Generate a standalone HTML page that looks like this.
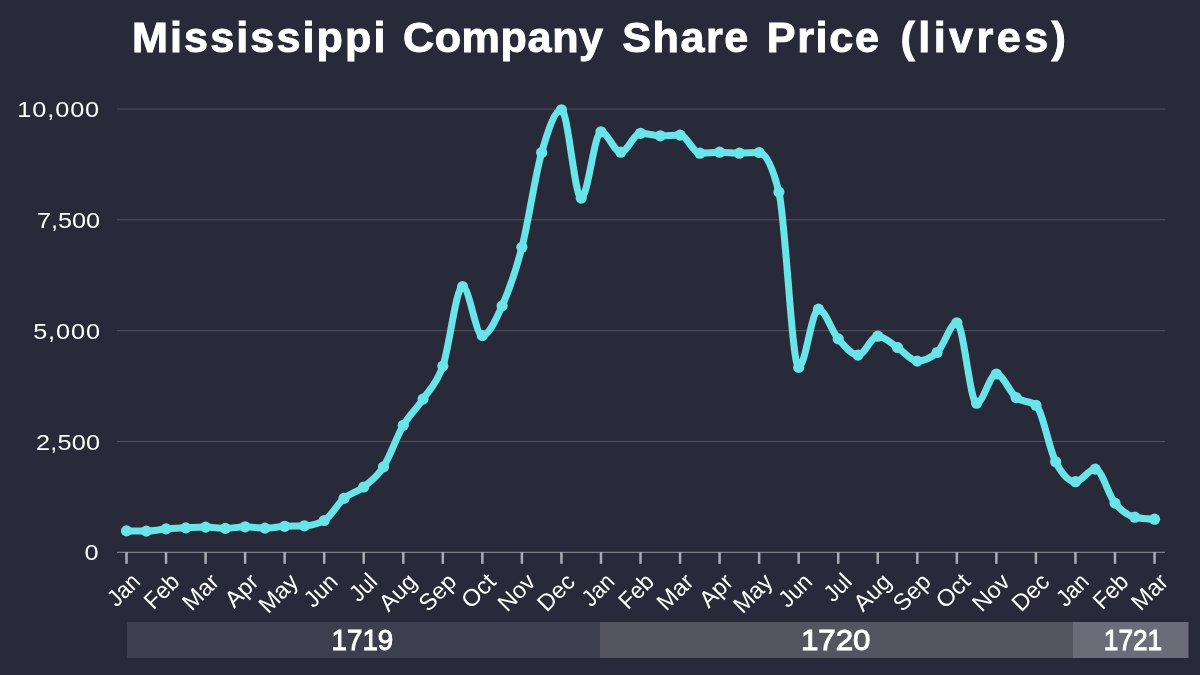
<!DOCTYPE html>
<html><head><meta charset="utf-8"><title>Mississippi Company Share Price</title>
<style>
html,body{margin:0;padding:0;background:#282a3a;}
body{width:1200px;height:675px;overflow:hidden;font-family:"Liberation Sans",sans-serif;}
svg{display:block;font-family:"Liberation Sans",sans-serif;will-change:transform;}
.title text{font-weight:bold;font-size:43.2px;fill:#fff;stroke:#fff;stroke-width:0.9px;}
.yl text{font-size:22.0px;fill:#fff;}
.xl text{font-size:23.5px;fill:#fff;text-anchor:end;}
.yr text{font-size:29.3px;fill:#fff;stroke:#fff;stroke-width:1.0px;}
</style></head><body>
<svg width="1200" height="675" viewBox="0 0 1200 675">
<rect width="1200" height="675" fill="#282a3a"/>
<g class="title"><text x="132.00" y="52.3" style="letter-spacing:2.06px">Mississippi</text><text x="402.90" y="52.3" style="letter-spacing:0.58px">Company</text><text x="622.30" y="52.3" style="letter-spacing:1.48px">Share</text><text x="766.70" y="52.3" style="letter-spacing:1.65px">Price</text><text x="900.50" y="52.3" style="letter-spacing:3.41px">(livres)</text></g>
<g fill="#52535f"><rect x="117" y="441.00" width="1048" height="1"/><rect x="117" y="330.17" width="1048" height="1"/><rect x="117" y="219.33" width="1048" height="1"/><rect x="117" y="108.50" width="1048" height="1"/></g>
<rect x="117" y="551.75" width="1048" height="1.15" fill="#84858e"/>
<g fill="#a9aab1"><rect x="125.25" y="552" width="2.5" height="11.9"/><rect x="164.79" y="552" width="2.5" height="11.9"/><rect x="204.33" y="552" width="2.5" height="11.9"/><rect x="243.87" y="552" width="2.5" height="11.9"/><rect x="283.41" y="552" width="2.5" height="11.9"/><rect x="322.95" y="552" width="2.5" height="11.9"/><rect x="362.49" y="552" width="2.5" height="11.9"/><rect x="402.03" y="552" width="2.5" height="11.9"/><rect x="441.57" y="552" width="2.5" height="11.9"/><rect x="481.11" y="552" width="2.5" height="11.9"/><rect x="520.65" y="552" width="2.5" height="11.9"/><rect x="560.19" y="552" width="2.5" height="11.9"/><rect x="599.73" y="552" width="2.5" height="11.9"/><rect x="639.27" y="552" width="2.5" height="11.9"/><rect x="678.81" y="552" width="2.5" height="11.9"/><rect x="718.35" y="552" width="2.5" height="11.9"/><rect x="757.89" y="552" width="2.5" height="11.9"/><rect x="797.43" y="552" width="2.5" height="11.9"/><rect x="836.97" y="552" width="2.5" height="11.9"/><rect x="876.51" y="552" width="2.5" height="11.9"/><rect x="916.05" y="552" width="2.5" height="11.9"/><rect x="955.59" y="552" width="2.5" height="11.9"/><rect x="995.13" y="552" width="2.5" height="11.9"/><rect x="1034.67" y="552" width="2.5" height="11.9"/><rect x="1074.21" y="552" width="2.5" height="11.9"/><rect x="1113.75" y="552" width="2.5" height="11.9"/><rect x="1153.29" y="552" width="2.5" height="11.9"/></g>
<g class="yl"><text transform="translate(17.20,117.10) scale(1.150,1)" style="letter-spacing:0.81px">10,000</text><text transform="translate(37.05,228.00) scale(1.150,1)" style="letter-spacing:-0.05px">7,500</text><text transform="translate(33.15,338.90) scale(1.150,1)" style="letter-spacing:0.79px">5,000</text><text transform="translate(36.05,450.00) scale(1.150,1)" style="letter-spacing:0.16px">2,500</text><text transform="translate(84.45,560.30) scale(1.150,1)" style="letter-spacing:0.00px">0</text></g>
<g class="xl"><text transform="translate(141.40,583.10) rotate(-45) scale(0.920,1)">Jan</text><text transform="translate(180.94,583.10) rotate(-45) scale(0.960,1)">Feb</text><text transform="translate(220.48,583.10) rotate(-45)">Mar</text><text transform="translate(260.02,583.10) rotate(-45)">Apr</text><text transform="translate(299.56,583.10) rotate(-45)">May</text><text transform="translate(339.10,583.10) rotate(-45) scale(0.955,1)">Jun</text><text transform="translate(378.64,583.10) rotate(-45) scale(0.940,1)">Jul</text><text transform="translate(418.18,583.10) rotate(-45)">Aug</text><text transform="translate(457.72,583.10) rotate(-45)">Sep</text><text transform="translate(497.26,583.10) rotate(-45) scale(1.030,1)">Oct</text><text transform="translate(536.80,583.10) rotate(-45)">Nov</text><text transform="translate(576.34,583.10) rotate(-45)">Dec</text><text transform="translate(615.88,583.10) rotate(-45) scale(0.920,1)">Jan</text><text transform="translate(655.42,583.10) rotate(-45) scale(0.960,1)">Feb</text><text transform="translate(694.96,583.10) rotate(-45)">Mar</text><text transform="translate(734.50,583.10) rotate(-45)">Apr</text><text transform="translate(774.04,583.10) rotate(-45)">May</text><text transform="translate(813.58,583.10) rotate(-45) scale(0.955,1)">Jun</text><text transform="translate(853.12,583.10) rotate(-45) scale(0.940,1)">Jul</text><text transform="translate(892.66,583.10) rotate(-45)">Aug</text><text transform="translate(932.20,583.10) rotate(-45)">Sep</text><text transform="translate(971.74,583.10) rotate(-45) scale(1.030,1)">Oct</text><text transform="translate(1011.28,583.10) rotate(-45)">Nov</text><text transform="translate(1050.82,583.10) rotate(-45)">Dec</text><text transform="translate(1090.36,583.10) rotate(-45) scale(0.920,1)">Jan</text><text transform="translate(1129.90,583.10) rotate(-45) scale(0.960,1)">Feb</text><text transform="translate(1169.44,583.10) rotate(-45)">Mar</text></g>
<rect x="127" y="622" width="473" height="36" fill="#3e3f4e"/>
<rect x="600" y="622" width="473" height="36" fill="#54555f"/>
<rect x="1073" y="622" width="115.5" height="36" fill="#6b6c77"/>
<g class="yr"><text transform="translate(331.61,649.9) scale(0.946,1)">1719</text><text transform="translate(800.97,649.9) scale(1.067,1)">1720</text><text transform="translate(1103.81,649.9) scale(0.895,1)">1721</text></g>
<path d="M126.50,530.90C133.09,531.00,139.68,531.10,146.27,531.10C152.86,531.10,159.45,529.43,166.04,528.90C172.63,528.37,179.22,528.20,185.81,527.90C192.40,527.60,198.99,527.10,205.58,527.10C212.17,527.10,218.76,528.40,225.35,528.40C231.94,528.40,238.53,526.80,245.12,526.80C251.71,526.80,258.30,528.10,264.89,528.10C271.48,528.10,278.07,526.63,284.66,526.30C291.25,525.97,297.84,526.13,304.43,525.80C311.02,525.47,317.61,524.03,324.20,520.50C330.79,516.97,337.38,503.98,343.97,498.40C350.56,492.82,357.15,492.25,363.74,487.00C370.33,481.75,376.92,477.18,383.51,466.90C390.10,456.62,396.69,436.60,403.28,425.30C409.87,414.00,416.46,408.97,423.05,399.10C429.64,389.23,436.23,384.85,442.82,366.10C449.41,347.35,456.00,286.60,462.59,286.60C469.18,286.60,475.77,335.60,482.36,335.60C488.95,335.60,495.54,320.62,502.13,305.90C508.72,291.18,515.31,272.87,521.90,247.30C528.49,221.73,535.08,175.42,541.67,152.50C548.26,129.58,554.85,109.80,561.44,109.80C568.03,109.80,574.62,198.10,581.21,198.10C587.80,198.10,594.39,131.80,600.98,131.80C607.57,131.80,614.16,152.20,620.75,152.20C627.34,152.20,633.93,133.30,640.52,133.30C647.11,133.30,653.70,135.80,660.29,135.80C666.88,135.80,673.47,135.10,680.06,135.10C686.65,135.10,693.24,153.20,699.83,153.20C706.42,153.20,713.01,152.20,719.60,152.20C726.19,152.20,732.78,153.20,739.37,153.20C745.96,153.20,752.55,152.50,759.14,152.50C765.73,152.50,772.32,165.70,778.91,192.10C785.50,218.50,792.09,367.40,798.68,367.40C805.27,367.40,811.86,309.20,818.45,309.20C825.04,309.20,831.63,331.25,838.22,338.90C844.81,346.55,851.40,355.10,857.99,355.10C864.58,355.10,871.17,336.20,877.76,336.20C884.35,336.20,890.94,343.35,897.53,347.50C904.12,351.65,910.71,361.10,917.30,361.10C923.89,361.10,930.48,358.23,937.07,352.50C943.66,346.77,950.25,322.80,956.84,322.80C963.43,322.80,970.02,403.20,976.61,403.20C983.20,403.20,989.79,374.00,996.38,374.00C1002.97,374.00,1009.56,392.47,1016.15,397.60C1022.74,402.73,1029.33,400.17,1035.92,405.30C1042.51,410.43,1049.10,449.07,1055.69,461.80C1062.28,474.53,1068.87,481.70,1075.46,481.70C1082.05,481.70,1088.64,469.10,1095.23,469.10C1101.82,469.10,1108.41,495.08,1115.00,503.10C1121.59,511.12,1128.18,515.87,1134.77,517.20C1141.36,518.53,1147.95,518.87,1154.54,519.20" fill="none" stroke="#69e4e8" stroke-width="7" stroke-linejoin="round" stroke-linecap="round"/>
<g fill="#69e4e8"><circle cx="126.50" cy="530.90" r="5.6"/><circle cx="146.27" cy="531.10" r="5.6"/><circle cx="166.04" cy="528.90" r="5.6"/><circle cx="185.81" cy="527.90" r="5.6"/><circle cx="205.58" cy="527.10" r="5.6"/><circle cx="225.35" cy="528.40" r="5.6"/><circle cx="245.12" cy="526.80" r="5.6"/><circle cx="264.89" cy="528.10" r="5.6"/><circle cx="284.66" cy="526.30" r="5.6"/><circle cx="304.43" cy="525.80" r="5.6"/><circle cx="324.20" cy="520.50" r="5.6"/><circle cx="343.97" cy="498.40" r="5.6"/><circle cx="363.74" cy="487.00" r="5.6"/><circle cx="383.51" cy="466.90" r="5.6"/><circle cx="403.28" cy="425.30" r="5.6"/><circle cx="423.05" cy="399.10" r="5.6"/><circle cx="442.82" cy="366.10" r="5.6"/><circle cx="462.59" cy="286.60" r="5.6"/><circle cx="482.36" cy="335.60" r="5.6"/><circle cx="502.13" cy="305.90" r="5.6"/><circle cx="521.90" cy="247.30" r="5.6"/><circle cx="541.67" cy="152.50" r="5.6"/><circle cx="561.44" cy="109.80" r="5.6"/><circle cx="581.21" cy="198.10" r="5.6"/><circle cx="600.98" cy="131.80" r="5.6"/><circle cx="620.75" cy="152.20" r="5.6"/><circle cx="640.52" cy="133.30" r="5.6"/><circle cx="660.29" cy="135.80" r="5.6"/><circle cx="680.06" cy="135.10" r="5.6"/><circle cx="699.83" cy="153.20" r="5.6"/><circle cx="719.60" cy="152.20" r="5.6"/><circle cx="739.37" cy="153.20" r="5.6"/><circle cx="759.14" cy="152.50" r="5.6"/><circle cx="778.91" cy="192.10" r="5.6"/><circle cx="798.68" cy="367.40" r="5.6"/><circle cx="818.45" cy="309.20" r="5.6"/><circle cx="838.22" cy="338.90" r="5.6"/><circle cx="857.99" cy="355.10" r="5.6"/><circle cx="877.76" cy="336.20" r="5.6"/><circle cx="897.53" cy="347.50" r="5.6"/><circle cx="917.30" cy="361.10" r="5.6"/><circle cx="937.07" cy="352.50" r="5.6"/><circle cx="956.84" cy="322.80" r="5.6"/><circle cx="976.61" cy="403.20" r="5.6"/><circle cx="996.38" cy="374.00" r="5.6"/><circle cx="1016.15" cy="397.60" r="5.6"/><circle cx="1035.92" cy="405.30" r="5.6"/><circle cx="1055.69" cy="461.80" r="5.6"/><circle cx="1075.46" cy="481.70" r="5.6"/><circle cx="1095.23" cy="469.10" r="5.6"/><circle cx="1115.00" cy="503.10" r="5.6"/><circle cx="1134.77" cy="517.20" r="5.6"/><circle cx="1154.54" cy="519.20" r="5.6"/></g>
</svg>
</body></html>
